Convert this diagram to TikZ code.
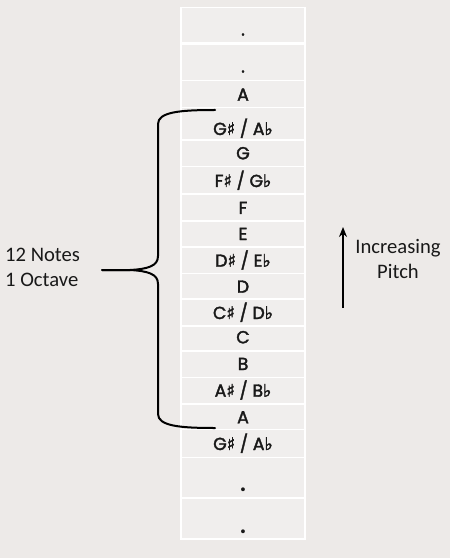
\documentclass[tikz,border=0pt]{standalone}
\usepackage{fontspec}
\setmainfont{Carlito}
\newfontfamily\notefont{Poppins}[FakeBold=2]
\newfontfamily\symfont{DejaVu Sans}[FakeBold=2]
\usetikzlibrary{calc,arrows.meta}
\tikzset{>=stealth}
\definecolor{bgcolor}{RGB}{237,234,232}
\definecolor{cellcolor}{RGB}{240,238,237}
\newcommand{\notesharp}{{\symfont\char"266F}}
\newcommand{\noteflat}{{\symfont\char"266D}}
\newcommand{\lowdot}{{\rmfamily\bfseries\fontsize{26}{26}\selectfont .}}
\tikzset{
  cell/.style={draw=white,line width=1.5bp,fill=cellcolor,minimum width=124bp,inner sep=0pt,anchor=north},
  notelabel/.style={font=\notefont\fontsize{17.5}{17.5}\selectfont,text=black!90,anchor=base,inner sep=0pt},
  sidetext/.style={font=\fontsize{20.7}{25}\selectfont,text=black!90,inner sep=0pt},
  brace/.style={line width=2bp,line cap=round},
}

\begin{document}
\begin{tikzpicture}[x=1bp,y=-1bp]
    \fill[bgcolor] (0,0) rectangle (450,558);
    \useasboundingbox (0,0) rectangle (450,558);
    % the column of notes, top to bottom
    \foreach \t/\b/\y/\n/\txt in {7/42/35.5/dot1/., 44/80/72.5/dot2/.,
        80/107/100.7/ahigh/A, 107/139.3/135/gshigh/{G\notesharp\ / A\noteflat},
        139.3/166/159.3/g/G, 166/193.3/187/fs/{F\notesharp\ / G\noteflat},
        193.3/220/214/f/F, 220/246/240/e/E,
        246/272.7/266.7/ds/{D\notesharp\ / E\noteflat}, 272.7/298.3/292.7/d/D,
        298.3/325/319/cs/{C\notesharp\ / D\noteflat}, 325/350/343.3/c/C,
        350/376.7/370/b/B, 376.7/403.3/396.7/as/{A\notesharp\ / B\noteflat},
        403.3/428.5/423.3/alow/A, 428.5/456.5/450/gslow/{G\notesharp\ / A\noteflat},
        456.5/497/491/dot3/\lowdot, 497/538/533/dot4/\lowdot} {
        \node[cell,minimum height={(\b-\t)*1bp}] (\n) at (243,\t) {};
        \node[notelabel] (\n-txt) at (243,\y) {\txt};
      }
    \draw[white,line width=3bp] (dot1.south west) -- (dot1.south east);
    % brace round one octave
    \coordinate (bracetop) at (215,110);
    \coordinate (bracetip) at (102,270);
    \coordinate (bracebot) at (215,428);
    \draw[brace] (bracetop) .. controls (180,110) and (158,112) .. (158,124) -- (158,256)
        .. controls (158,266) and (148,269) .. (130,270) -- (bracetip);
    \draw[brace] (bracetip) -- (130,270) .. controls (148,271) and (158,274) .. (158,284)
        -- (158,414) .. controls (158,426) and (180,428) .. (bracebot);
    \node[sidetext,anchor=west,align=left] (octave) at (5,267) {12 Notes\\1 Octave};
    % pitch arrow
    \coordinate (pitchlow) at (343,308);
    \coordinate (pitchhigh) at (343,227);
    \draw[-{Stealth[length=10bp,width=8bp]},line width=2bp] (pitchlow) -- (pitchhigh);
    \node[sidetext,align=center] (pitch) at (398,259) {Increasing\\Pitch};
  \end{tikzpicture}
\end{document}
